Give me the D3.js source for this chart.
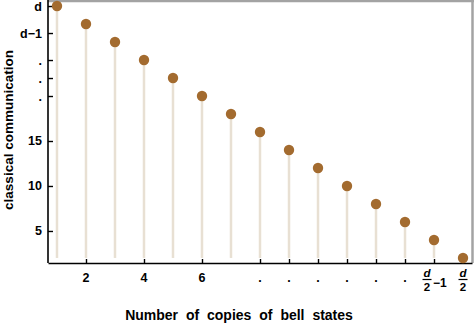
<!DOCTYPE html>
<html>
<head>
<meta charset="utf-8">
<script src="https://cdn.jsdelivr.net/npm/d3@7"></script>
<style>
  body { margin: 0; background: #fff; }
  text { font-family: "Liberation Sans", Arial, sans-serif; font-weight: bold; fill: #000; }
</style>
</head>
<body>
<div id="chart"></div>
<script>
// data
const copies = [1, 2, 3, 4, 5, 6, 7, 8, 9, 10, 11, 12, 13, 14, 15];
const commValues = [30, 28, 26, 24, 22, 20, 18, 16, 14, 12, 10, 8, 6, 4, 2];
const xTickVals = [2, 4, 6, 8, 9, 10, 11, 12, 13, 14, 15];
const xTickLabels = ["2", "4", "6", ".", ".", ".", ".", ".", ".", "d/2-1", "d/2"];
const yTickVals = [5, 10, 15, 20, 22, 24, 27, 30];
const yTickLabels = ["5", "10", "15", ".", ".", ".", "d\u22121", "d"];
const stemBase = 2;

const W = 474, H = 325;
const plot = { left: 48, right: 472, top: 1, bottom: 263 };

const svg = d3.select("#chart")
    .append("svg")
    .attr("width", W)
    .attr("height", H);

const x = d3.scaleLinear()
    .domain([0.69, 15.31])
    .range([plot.left, plot.right]);

const y = d3.scaleLinear()
    .domain([1.44, 30.56])
    .range([plot.bottom, plot.top]);

// gray frame edges (top and right)
svg.append("line")
    .attr("x1", plot.left).attr("x2", W)
    .attr("y1", 1).attr("y2", 1)
    .attr("stroke", "#a3a3a3").attr("stroke-width", 2.5);
svg.append("line")
    .attr("x1", 472.5).attr("x2", 472.5)
    .attr("y1", 0).attr("y2", plot.bottom)
    .attr("stroke", "#a3a3a3").attr("stroke-width", 2.5);

// stems
svg.selectAll("line.stem")
    .data(copies)
    .enter()
    .append("line")
    .attr("class", "stem")
    .attr("x1", d => x(d)).attr("x2", d => x(d))
    .attr("y1", y(stemBase))
    .attr("y2", (d, i) => y(commValues[i]))
    .attr("stroke", "#e8e0d3")
    .attr("stroke-width", 2.5);

// axes (ticks point inward)
const xAxis = d3.axisBottom(x)
    .tickValues(xTickVals)
    .tickSizeInner(-4)
    .tickSizeOuter(0)
    .tickFormat("");
svg.append("g")
    .attr("transform", `translate(0, ${plot.bottom})`)
    .call(xAxis)
    .call(g => g.select(".domain").attr("stroke", "#000").attr("stroke-width", 1.6))
    .call(g => g.selectAll(".tick line").attr("stroke", "#000").attr("stroke-width", 1.4));

const yAxis = d3.axisLeft(y)
    .tickValues(yTickVals)
    .tickSizeInner(-5)
    .tickSizeOuter(0)
    .tickFormat("");
svg.append("g")
    .attr("transform", `translate(${plot.left}, 0)`)
    .call(yAxis)
    .call(g => g.select(".domain").attr("stroke", "#000").attr("stroke-width", 1.6)
        .attr("d", `M0,0V${plot.bottom}`))
    .call(g => g.selectAll(".tick line").attr("stroke", "#000").attr("stroke-width", 1.4));

// points
svg.selectAll("circle")
    .data(copies)
    .enter()
    .append("circle")
    .attr("cx", d => x(d))
    .attr("cy", (d, i) => y(commValues[i]))
    .attr("r", 5.2)
    .attr("fill", "#a36b2f");

// y tick labels
yTickVals.forEach(function (v, i) {
    svg.append("text")
        .attr("x", 42)
        .attr("y", y(v))
        .attr("dy", "0.36em")
        .attr("text-anchor", "end")
        .style("font-size", "12.5px")
        .text(yTickLabels[i]);
});

// x tick labels, fractions drawn by hand
function fraction(g, cx) {
    g.append("text")
        .attr("x", cx).attr("y", 277)
        .attr("text-anchor", "middle")
        .style("font-size", "11.5px")
        .style("font-style", "italic")
        .text("d");
    g.append("line")
        .attr("x1", cx - 4.5).attr("x2", cx + 4.5)
        .attr("y1", 279.5).attr("y2", 279.5)
        .attr("stroke", "#000").attr("stroke-width", 1.2);
    g.append("text")
        .attr("x", cx).attr("y", 291)
        .attr("text-anchor", "middle")
        .style("font-size", "11.5px")
        .text("2");
}

xTickVals.forEach(function (v, i) {
    const lab = xTickLabels[i];
    const g = svg.append("g");
    if (lab === "d/2") {
        fraction(g, x(v));
    } else if (lab === "d/2-1") {
        fraction(g, x(v) - 7);
        g.append("text")
            .attr("x", x(v) - 1).attr("y", 287)
            .style("font-size", "12px")
            .text("\u22121");
    } else {
        g.append("text")
            .attr("x", x(v))
            .attr("y", 282)
            .attr("text-anchor", "middle")
            .style("font-size", "12.5px")
            .text(lab);
    }
});

// axis titles
svg.append("text")
    .attr("x", 239)
    .attr("y", 320)
    .attr("text-anchor", "middle")
    .style("font-size", "14px")
    .style("word-spacing", "4px")
    .text("Number of copies of bell states");

svg.append("text")
    .attr("transform", "translate(13, 130) rotate(-90)")
    .attr("text-anchor", "middle")
    .style("font-size", "13.5px")
    .text("classical communication");
</script>
</body>
</html>
